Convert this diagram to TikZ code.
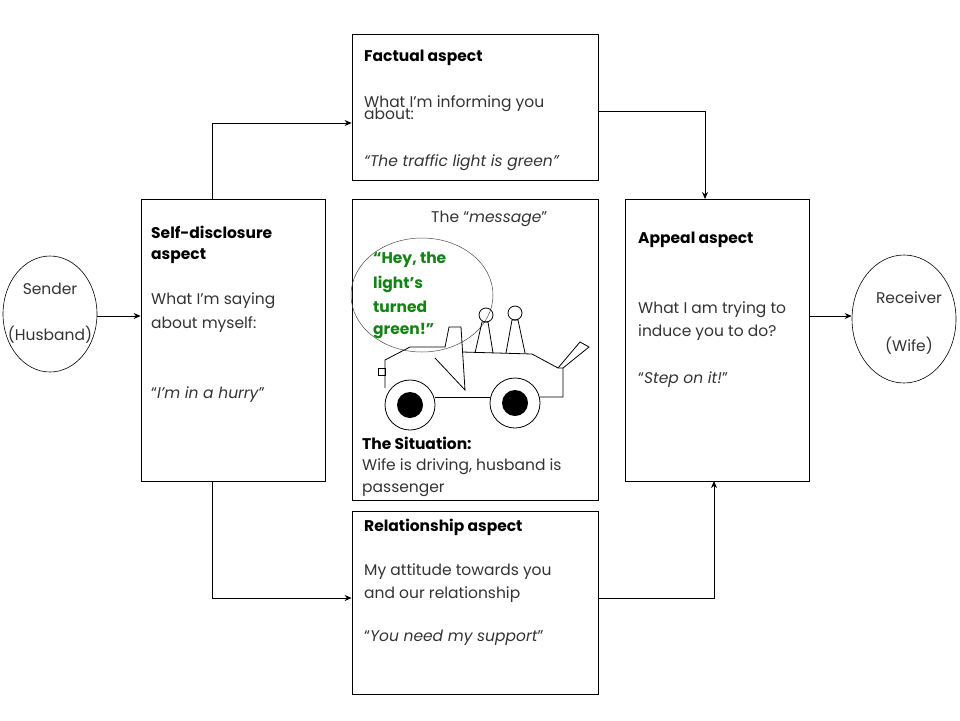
\documentclass[tikz,border=0pt]{standalone}
\usepackage{fontspec}
\setmainfont{Poppins}
\usetikzlibrary{arrows.meta,shapes.geometric}
\definecolor{grn}{RGB}{20,130,20}
\begin{document}
\begin{tikzpicture}[x=1pt,y=-1pt,
 box/.style={draw,line width=0.8pt,inner sep=0},
 t/.style={anchor=west,inner sep=0,font=\fontsize{15.5}{17}\selectfont,text=black!80},
 tb/.style={t,font=\fontsize{15.5}{17}\selectfont\bfseries,text=black},
 g/.style={t,font=\fontsize{15.5}{17}\selectfont\bfseries,text=grn},
 ar/.style={-{Stealth[length=7pt,width=6pt]},line width=0.8pt},
 ln/.style={line width=0.8pt}]
\useasboundingbox (0,0) rectangle (960,720);
\node[box,minimum width=246,minimum height=146] (fac) at (475,107) {};
\node[box,minimum width=184,minimum height=282] (self) at (233,340) {};
\node[box,minimum width=246,minimum height=301] (msg) at (475,349.5) {};
\node[box,minimum width=184,minimum height=282] (app) at (717,340) {};
\node[box,minimum width=246,minimum height=183] (rel) at (475,602.5) {};
\node[draw,ellipse,line width=0.6pt,minimum width=94,minimum height=116] (snd) at (50,314) {};
\node[draw,ellipse,line width=0.6pt,minimum width=104,minimum height=128] (rcv) at (904,319) {};
% arrows
\draw[ar] (snd.east |- 0,316) -- (self.west |- 0,316);
\draw[ar] (self.north) ++(-21,0) coordinate (s1) -- (212,123) -- (fac.west |- 0,123);
\draw[ar] (fac.east |- 0,111) -- (705,111) -- (705,199);
\draw[ar] (212,481) -- (212,598) -- (rel.west |- 0,598);
\draw[ar] (rel.east |- 0,598) -- (714,598) -- (714,481);
\draw[ar] (app.east |- 0,316) -- (rcv.west |- 0,316);
% texts
\node[tb] (f1) at (364,58) {Factual aspect};
\node[t] (f2) at (364,104) {What I’m informing you};
\node[t] (f3) at (364,114) {about:};
\node[t,font=\fontsize{15.5}{17}\selectfont\itshape] (f4) at (364,163) {“The traffic light is green”};
\node[tb] (s1t) at (151,232) {Self-disclosure};
\node[tb] (s2t) at (151,256) {aspect};
\node[t] (s3t) at (151,301) {What I’m saying};
\node[t] (s4t) at (151,325) {about myself:};
\node[t] (s5t) at (151,395) {“\textit{I’m in a hurry}”};
\node[t] (m1) at (431,219) {The “\textit{message}”};
\node[tb] (m2) at (362,443) {The Situation:};
\node[t] (m3) at (362,467) {Wife is driving, husband is};
\node[t] (m4) at (362,490) {passenger};
\node[tb] (a1) at (638,240) {Appeal aspect};
\node[t] (a2) at (638,310) {What I am trying to};
\node[t] (a3) at (638,333) {induce you to do?};
\node[t] (a4) at (638,380) {“\textit{Step on it!}”};
\node[tb] (r1) at (364,527) {Relationship aspect};
\node[t] (r2) at (364,572) {My attitude towards you};
\node[t] (r3) at (364,595) {and our relationship};
\node[t] (r4) at (364,638) {“\textit{You need my support}”};
\node[t,anchor=center] (sn1) at (50,289) {Sender};
\node[t,anchor=center] (sn2) at (50,335) {(Husband)};
\node[t,anchor=center] (rc1) at (909,298) {Receiver};
\node[t,anchor=center] (rc2) at (909,346) {(Wife)};
% car scene
\draw[line width=0.5pt,black!70] (422,295) ellipse (71 and 57);
\node[g] (b1) at (373,260) {“Hey, the};
\node[g] (b2) at (373,284) {light’s};
\node[g] (b3) at (373,307) {turned};
\node[g] (b4) at (373,331) {green!”};
\draw[ln] (385,388) -- (385,360) -- (410,347) -- (445,347) -- (449,327) -- (461,327) -- (465,390) -- (435,358);
\draw[ln] (462,352) -- (532,354) -- (558,368) -- (563,368) -- (563,397) -- (540,397);
\draw[ln] (558,368) -- (580,342) -- (589,347) -- (563,368);
\draw[ln] (435,397) -- (490,397);
\draw[ln] (378,368) rectangle (385,375);
\draw[ln] (410,405) circle (25);
\fill (410,405) circle (13);
\draw[ln] (515,403) circle (25);
\fill (515,403) circle (13);
\draw[ln] (486,315) circle (7);
\draw[ln] (515,313) circle (7);
\draw[ln] (475,353) -- (482,322) -- (488,322) -- (493,353);
\draw[ln] (506,353) -- (512,320) -- (518,320) -- (525,353);
\end{tikzpicture}
\end{document}
